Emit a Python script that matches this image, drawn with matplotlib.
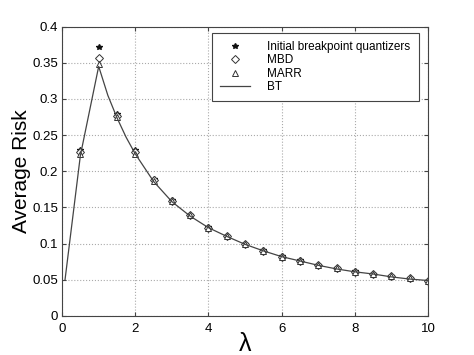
import matplotlib
matplotlib.use("Agg")
import matplotlib.pyplot as plt
from matplotlib.ticker import FixedLocator, FixedFormatter

plt.rcParams['font.family'] = ['Liberation Sans', 'DejaVu Sans']

lam = [0.5, 1, 1.5, 2, 2.5, 3, 3.5, 4, 4.5, 5, 5.5, 6, 6.5, 7, 7.5, 8, 8.5, 9, 9.5, 10]
initial = [0.230, 0.372, 0.279, 0.230, 0.190, 0.160, 0.140, 0.123, 0.111, 0.100,
           0.091, 0.083, 0.077, 0.071, 0.066, 0.062, 0.058, 0.055, 0.052, 0.049]
mbd = [0.226, 0.357, 0.277, 0.226, 0.188, 0.159, 0.139, 0.122, 0.110, 0.099,
       0.090, 0.082, 0.076, 0.070, 0.066, 0.061, 0.058, 0.055, 0.052, 0.049]
marr = [0.224, 0.349, 0.275, 0.224, 0.186, 0.159, 0.139, 0.122, 0.110, 0.099,
        0.090, 0.082, 0.076, 0.070, 0.066, 0.061, 0.058, 0.055, 0.052, 0.049]

bt_lam = [0.08, 0.5, 1.0, 1.25, 1.5, 1.75, 2.0, 2.5, 3, 3.5, 4, 4.5, 5, 5.5, 6, 6.5,
          7, 7.5, 8, 8.5, 9, 9.5, 10]
bt_val = [0.050, 0.222, 0.345, 0.305, 0.274, 0.247, 0.224, 0.186, 0.158, 0.138, 0.122,
          0.110, 0.099, 0.090, 0.082, 0.076, 0.070, 0.065, 0.061, 0.058, 0.054, 0.051, 0.049]

yticks = [0, 0.05, 0.1, 0.15, 0.2, 0.25, 0.3, 0.35, 0.4]
ytick_labels = ['0', '0.05', '0.1', '0.15', '0.2', '0.25', '0.3', '0.35', '0.4']
xticks = [0, 2, 4, 6, 8, 10]
xtick_labels = ['0', '2', '4', '6', '8', '10']

fig = plt.figure(figsize=(4.74, 3.55), dpi=100)
ax = fig.add_axes([0.131, 0.110, 0.772, 0.815])

ax.plot(lam, initial, linestyle='none', marker='*', markersize=4,
        color='#111111', label='Initial breakpoint quantizers')
ax.plot(lam, mbd, linestyle='none', marker='D', markersize=4, markerfacecolor='white',
        markeredgecolor='#333333', markeredgewidth=0.7, label='MBD')
ax.plot(lam, marr, linestyle='none', marker='^', markersize=5, markerfacecolor='white',
        markeredgecolor='#333333', markeredgewidth=0.7, label='MARR')
ax.plot(bt_lam, bt_val, color='#444444', linewidth=0.9, label='BT')

ax.set_xlim(0, 10)
ax.set_ylim(0, 0.4)
ax.xaxis.set_major_locator(FixedLocator(xticks))
ax.xaxis.set_major_formatter(FixedFormatter(xtick_labels))
ax.yaxis.set_major_locator(FixedLocator(yticks))
ax.yaxis.set_major_formatter(FixedFormatter(ytick_labels))
ax.tick_params(direction='in', labelsize=9.5, length=3, color='#444444',
               top=True, right=True)
ax.tick_params(axis='x', pad=5)
ax.tick_params(axis='y', pad=3)
ax.grid(True, linestyle=':', color='#aaaaaa', linewidth=0.8)
for s in ax.spines.values():
    s.set_color('#444444')
    s.set_linewidth(0.8)

ax.set_ylabel('Average Risk', fontsize=15)
ax.yaxis.set_label_coords(-0.085, 0.5)
ax.set_xlabel('λ', fontsize=18, labelpad=-2)

leg = ax.legend(loc='upper right', bbox_to_anchor=(0.975, 0.979), fontsize=8.5,
                frameon=True, fancybox=False, framealpha=1, edgecolor='#444444',
                handlelength=2.5, handletextpad=1.5, labelspacing=0.12,
                borderpad=0.7, borderaxespad=0)
leg.get_frame().set_linewidth(0.8)

fig.savefig('out.png', dpi=100)
